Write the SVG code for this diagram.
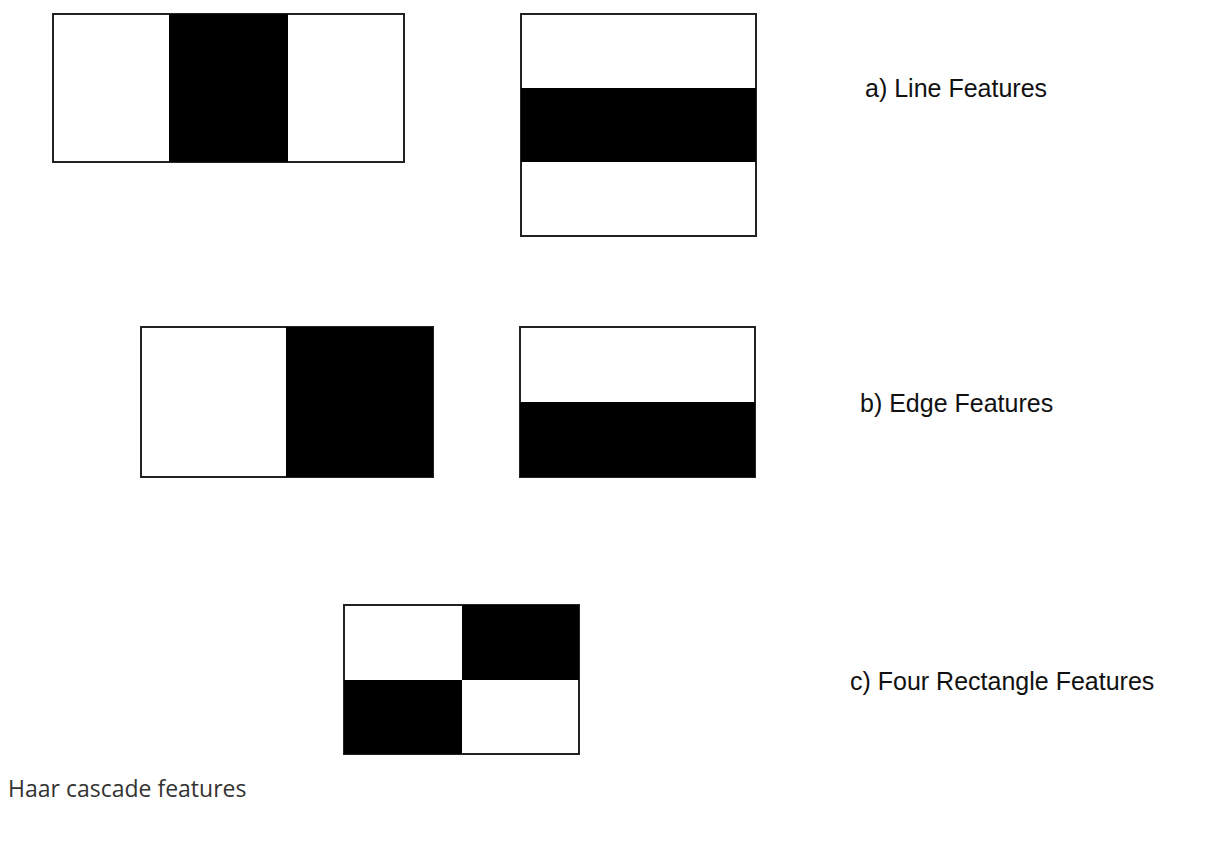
<svg xmlns="http://www.w3.org/2000/svg" width="1222" height="855" viewBox="0 0 1222 855">
<style>
.f{fill:#fff;stroke:#222;stroke-width:2}
.b{fill:#000}
.l{font-family:"Liberation Sans",Arial,sans-serif;font-size:25px;fill:#111}
.c{font-family:"Open Sans",sans-serif;font-size:23px;fill:#333}
</style>
<rect width="1222" height="855" fill="#fff"/>
<g id="line-vertical"><rect class="f" x="53" y="14" width="351" height="148"/><rect class="b" x="169" y="14" width="119" height="148"/></g>
<g id="line-horizontal"><rect class="f" x="521" y="14" width="235" height="222"/><rect class="b" x="521" y="88" width="235" height="74"/></g>
<g id="edge-vertical"><rect class="f" x="141" y="327" width="292" height="150"/><rect class="b" x="286" y="327" width="147" height="150"/></g>
<g id="edge-horizontal"><rect class="f" x="520" y="327" width="235" height="150"/><rect class="b" x="520" y="402" width="235" height="75"/></g>
<g id="four-rect"><rect class="f" x="344" y="605" width="235" height="149"/><rect class="b" x="462" y="605" width="117" height="75"/><rect class="b" x="344" y="680" width="118" height="74"/></g>
<g id="labels">
<text class="l" x="865" y="97">a) Line Features</text>
<text class="l" x="860" y="412">b) Edge Features</text>
<text class="l" x="850" y="690">c) Four Rectangle Features</text>
<text class="c" x="8" y="797">Haar cascade features</text>
</g>
</svg>
